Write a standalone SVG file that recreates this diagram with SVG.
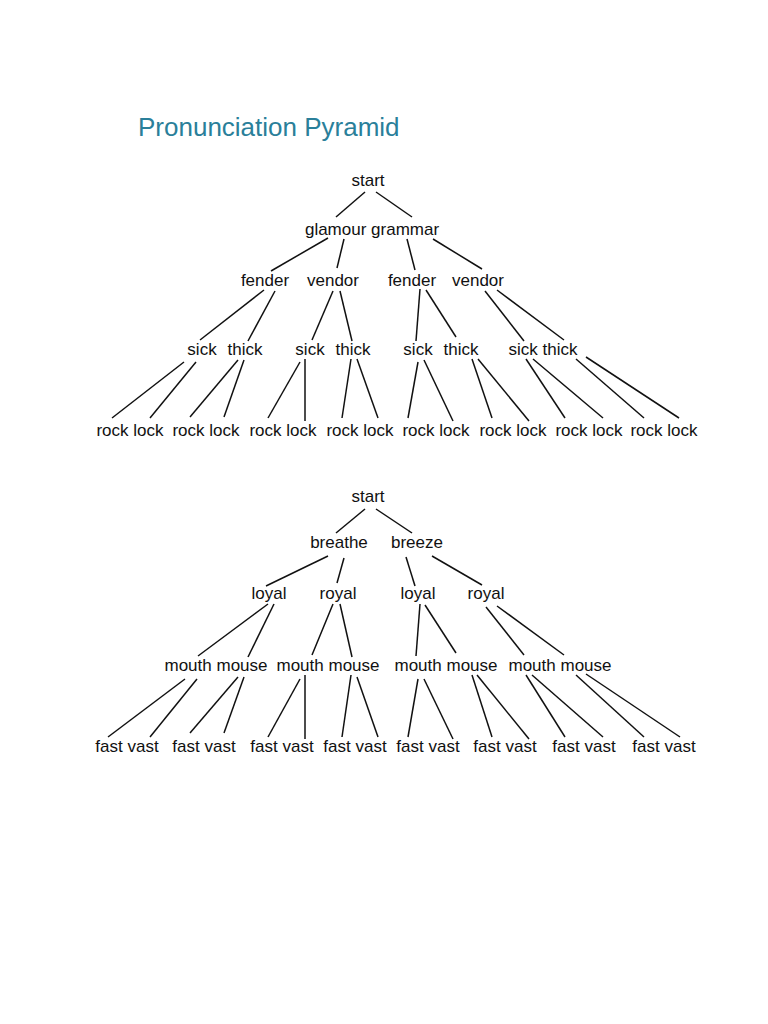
<svg xmlns="http://www.w3.org/2000/svg" width="768" height="1024" viewBox="0 0 768 1024">
<style>
text{font-family:"Liberation Sans",Arial,sans-serif;font-size:17px;fill:#111;text-anchor:middle}
.t{font-size:26px;fill:#2a7f9a;text-anchor:start}
line{stroke:#111;stroke-width:1.5}
</style>
<rect width="768" height="1024" fill="#fff"/>
<text class="t" x="138" y="136">Pronunciation Pyramid</text>
<g id="connectors">
<line x1="365" y1="192" x2="336" y2="217"/><line x1="376" y1="192" x2="412" y2="217"/>
<line x1="328" y1="238" x2="271" y2="271"/><line x1="344" y1="239" x2="337" y2="268"/>
<line x1="407" y1="239" x2="415" y2="270"/><line x1="433" y1="239" x2="482" y2="269"/>
<line x1="264" y1="290" x2="200" y2="340"/><line x1="275" y1="291" x2="248" y2="341"/>
<line x1="333" y1="291" x2="312" y2="340"/><line x1="340" y1="291" x2="352" y2="341"/>
<line x1="420" y1="289" x2="416" y2="341"/><line x1="426" y1="290" x2="456" y2="337"/>
<line x1="485" y1="291" x2="524" y2="341"/><line x1="497" y1="290" x2="564" y2="340"/>
<line x1="184" y1="362" x2="112" y2="418"/><line x1="196" y1="362" x2="150" y2="418"/>
<line x1="238" y1="360" x2="190" y2="417"/><line x1="244" y1="360" x2="224" y2="417"/>
<line x1="300" y1="362" x2="268" y2="418"/><line x1="305" y1="359" x2="305" y2="421"/>
<line x1="351" y1="359" x2="342" y2="418"/><line x1="357" y1="359" x2="378" y2="418"/>
<line x1="418" y1="362" x2="408" y2="418"/><line x1="424" y1="360" x2="453" y2="421"/>
<line x1="472" y1="359" x2="492" y2="418"/><line x1="478" y1="359" x2="529" y2="421"/>
<line x1="526" y1="359" x2="565" y2="418"/><line x1="533" y1="359" x2="603" y2="418"/>
<line x1="576" y1="359" x2="644" y2="418"/><line x1="586" y1="357" x2="679" y2="418"/>

<line x1="365" y1="509" x2="336" y2="533"/><line x1="376" y1="509" x2="412" y2="533"/>
<line x1="328" y1="556" x2="266" y2="586"/><line x1="344" y1="558" x2="337" y2="583"/>
<line x1="406" y1="557" x2="415" y2="586"/><line x1="432" y1="556" x2="482" y2="585"/>
<line x1="268" y1="604" x2="198" y2="656"/><line x1="274" y1="604" x2="248" y2="657"/>
<line x1="333" y1="604" x2="312" y2="655"/><line x1="340" y1="604" x2="352" y2="657"/>
<line x1="420" y1="604" x2="416" y2="656"/><line x1="425" y1="605" x2="456" y2="653"/>
<line x1="486" y1="607" x2="524" y2="655"/><line x1="497" y1="606" x2="564" y2="655"/>
<line x1="185" y1="679" x2="108" y2="737"/><line x1="197" y1="679" x2="150" y2="737"/>
<line x1="238" y1="677" x2="190" y2="733"/><line x1="244" y1="677" x2="224" y2="733"/>
<line x1="300" y1="679" x2="268" y2="737"/><line x1="305" y1="675" x2="305" y2="739"/>
<line x1="351" y1="675" x2="342" y2="737"/><line x1="357" y1="677" x2="378" y2="737"/>
<line x1="418" y1="679" x2="408" y2="737"/><line x1="424" y1="679" x2="453" y2="739"/>
<line x1="472" y1="675" x2="492" y2="737"/><line x1="477" y1="675" x2="529" y2="739"/>
<line x1="526" y1="675" x2="565" y2="737"/><line x1="532" y1="675" x2="603" y2="737"/>
<line x1="576" y1="675" x2="644" y2="737"/><line x1="586" y1="674" x2="680" y2="737"/>
</g>
<g id="top-tree">
<g id="t-start"><text x="368" y="186">start</text></g>
<g id="t-l2"><text x="372" y="235">glamour grammar</text></g>
<g id="t-fender1"><text x="265" y="286">fender</text></g>
<g id="t-vendor1"><text x="333" y="286">vendor</text></g>
<g id="t-fender2"><text x="412" y="286">fender</text></g>
<g id="t-vendor2"><text x="478" y="286">vendor</text></g>
<g id="t-st1"><text x="202" y="355">sick</text><text x="245" y="355">thick</text></g>
<g id="t-st2"><text x="310" y="355">sick</text><text x="353" y="355">thick</text></g>
<g id="t-st3"><text x="418" y="355">sick</text><text x="461" y="355">thick</text></g>
<g id="t-st4"><text x="543" y="355">sick thick</text></g>
<g id="t-rl1"><text x="130" y="436">rock lock</text></g>
<g id="t-rl2"><text x="206" y="436">rock lock</text></g>
<g id="t-rl3"><text x="283" y="436">rock lock</text></g>
<g id="t-rl4"><text x="360" y="436">rock lock</text></g>
<g id="t-rl5"><text x="436" y="436">rock lock</text></g>
<g id="t-rl6"><text x="513" y="436">rock lock</text></g>
<g id="t-rl7"><text x="589" y="436">rock lock</text></g>
<g id="t-rl8"><text x="664" y="436">rock lock</text></g>
</g>
<g id="bottom-tree">
<g id="b-start"><text x="368" y="502">start</text></g>
<g id="b-breathe"><text x="339" y="548">breathe</text></g>
<g id="b-breeze"><text x="417" y="548">breeze</text></g>
<g id="b-loyal1"><text x="269" y="599">loyal</text></g>
<g id="b-royal1"><text x="338" y="599">royal</text></g>
<g id="b-loyal2"><text x="418" y="599">loyal</text></g>
<g id="b-royal2"><text x="486" y="599">royal</text></g>
<g id="b-mm1"><text x="216" y="671">mouth mouse</text></g>
<g id="b-mm2"><text x="328" y="671">mouth mouse</text></g>
<g id="b-mm3"><text x="446" y="671">mouth mouse</text></g>
<g id="b-mm4"><text x="560" y="671">mouth mouse</text></g>
<g id="b-fv1"><text x="127" y="752">fast vast</text></g>
<g id="b-fv2"><text x="204" y="752">fast vast</text></g>
<g id="b-fv3"><text x="282" y="752">fast vast</text></g>
<g id="b-fv4"><text x="355" y="752">fast vast</text></g>
<g id="b-fv5"><text x="428" y="752">fast vast</text></g>
<g id="b-fv6"><text x="505" y="752">fast vast</text></g>
<g id="b-fv7"><text x="584" y="752">fast vast</text></g>
<g id="b-fv8"><text x="664" y="752">fast vast</text></g>
</g>
</svg>
